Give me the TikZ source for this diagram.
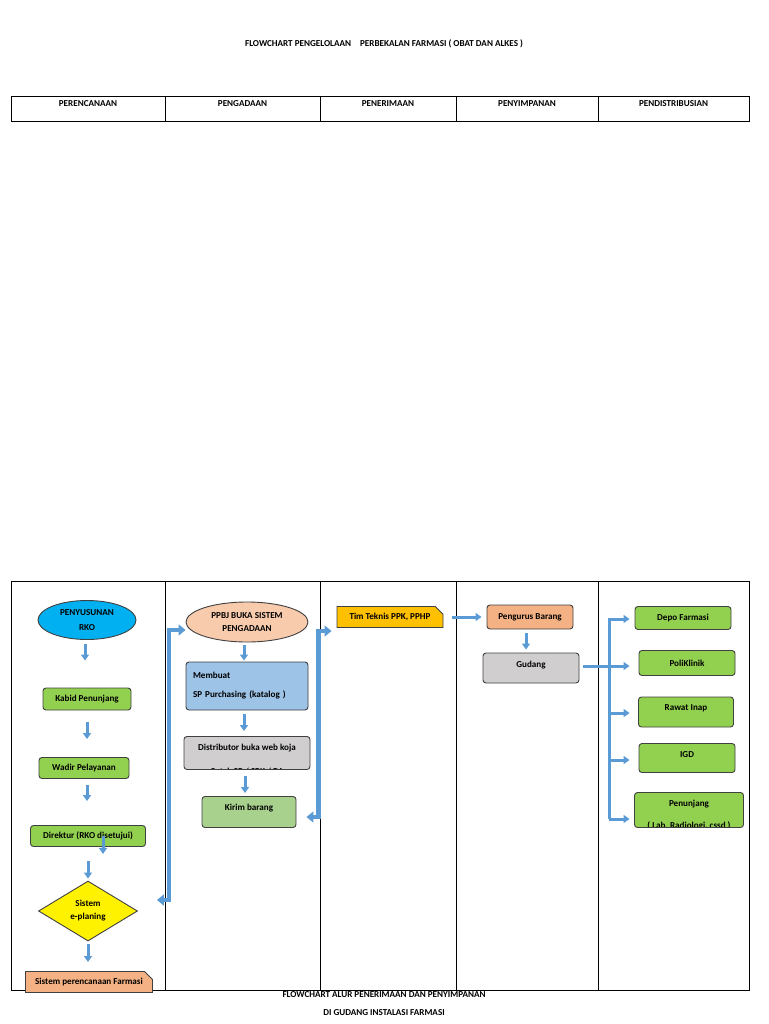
\documentclass[tikz,border=0pt]{standalone}
\usepackage{fontspec}
\setmainfont{Carlito}
\usetikzlibrary{arrows.meta,shapes.geometric,shapes.misc}
\definecolor{arrblue}{HTML}{5B9BD5}
\definecolor{rkoblue}{HTML}{00B0F0}
\definecolor{boxgreen}{HTML}{92D050}
\definecolor{softgreen}{HTML}{A9D18E}
\definecolor{peach}{HTML}{F8CBAD}
\definecolor{salmon}{HTML}{F4B183}
\definecolor{skyblue}{HTML}{9DC3E6}
\definecolor{boxgray}{HTML}{D0CECE}
\definecolor{amber}{HTML}{FFC000}
\tikzset{
  txt/.style={font=\bfseries\fontsize{9.1}{10}\selectfont},
  box/.style={txt, draw=black!75, line width=0.9pt, rounded corners=3pt, inner sep=0pt},
  snip/.style={txt, draw=black!75, line width=0.9pt, chamfered rectangle, chamfered rectangle corners=north east, chamfered rectangle xsep=4pt, chamfered rectangle ysep=4pt, inner sep=0pt},
  arr/.style={draw=arrblue, line width=3pt, -{Triangle[width=8pt,length=6pt]}},
  bigarr/.style={draw=arrblue, line width=4.5pt, {Triangle[width=11pt,length=7pt]}-{Triangle[width=11pt,length=7pt]}},
  trunk/.style={draw=arrblue, line width=3pt}
}
\begin{document}
\begin{tikzpicture}[x=1pt, y=-1pt]
\useasboundingbox (0,0) rectangle (768,1024);
\node[txt] (title) at (384,44) {FLOWCHART PENGELOLAAN\quad PERBEKALAN FARMASI ( OBAT DAN ALKES )};
\foreach \xa/\xb/\t [count=\i] in {11/165/PERENCANAAN, 165/320/PENGADAAN, 320/456/PENERIMAAN, 456/598/PENYIMPANAN, 598/749/PENDISTRIBUSIAN} {
  \draw[line width=0.9pt] (\xa,96) rectangle (\xb,121);
  \draw[line width=0.9pt] (\xa,581) rectangle (\xb,990);
  \node[txt] (col\i) at ({(\xa+\xb)/2},104) {\t};
}
\node[txt] (foot1) at (384,995) {FLOWCHART ALUR PENERIMAAN DAN PENYIMPANAN};
\node[txt] (foot2) at (384,1013) {DI GUDANG INSTALASI FARMASI};

\node[box, ellipse, fill=rkoblue, minimum width=98pt, minimum height=39pt, align=center, font=\bfseries\fontsize{9.1}{15}\selectfont] (rko) at (87,620) {PENYUSUNAN\\RKO};
\node[box, fill=boxgreen, minimum width=88pt, minimum height=22pt] (kabid) at (87,699) {Kabid Penunjang};
\node[box, fill=boxgreen, minimum width=90pt, minimum height=21pt] (wadir) at (84,768) {Wadir Pelayanan};
\node[box, fill=boxgreen, minimum width=115pt, minimum height=21pt] (direktur) at (88,836) {Direktur (RKO disetujui)};
\node[box, diamond, rounded corners=0pt, fill=yellow, minimum width=99pt, minimum height=60pt, aspect=1.65, align=center, font=\bfseries\fontsize{9.1}{13}\selectfont] (eplan) at (88,911) {Sistem\\e-planing};
\node[snip, fill=salmon, minimum width=127pt, minimum height=21pt] (sisfar) at (89,982) {Sistem perencanaan Farmasi};

\node[box, ellipse, fill=peach, minimum width=122pt, minimum height=40pt, align=center, font=\bfseries\fontsize{9.1}{13}\selectfont] (ppbj) at (247,622) {PPBJ BUKA SISTEM\\PENGADAAN};
\node[box, fill=skyblue, text width=108pt, inner xsep=7pt, minimum height=48pt, align=left, font=\bfseries\fontsize{9.1}{19}\selectfont] (membuat) at (247,686) {Membuat\\SP Purchasing (katalog )};
\node[box, fill=boxgray, minimum width=126pt, minimum height=33pt, path picture={\node[txt] at ([yshift=-2pt]path picture bounding box.south) {Cetak SP / SPK / BA};}] (distri) at (247,753) {};
\node[txt, anchor=north] (distritxt) at ([yshift=-5pt]distri.north) {Distributor buka web koja};
\node[box, fill=softgreen, minimum width=94pt, minimum height=31pt] (kirim) at (249,812) {};
\node[txt, anchor=north] (kirimtxt) at ([yshift=-5pt]kirim.north) {Kirim barang};

\node[snip, fill=amber, minimum width=106pt, minimum height=21pt] (tim) at (390,617) {Tim Teknis PPK, PPHP};
\node[box, fill=salmon, minimum width=86pt, minimum height=24pt] (pengurus) at (530,617) {Pengurus Barang};
\node[box, fill=boxgray, minimum width=96pt, minimum height=30pt] (gudang) at (531,668) {};
\node[txt, anchor=north] (gudangtxt) at ([yshift=-5pt]gudang.north) {Gudang};

\node[box, fill=boxgreen, minimum width=96pt, minimum height=23pt] (depo) at (683,618) {Depo Farmasi};
\node[box, fill=boxgreen, minimum width=96pt, minimum height=25pt] (poli) at (687,663) {PoliKlinik};
\node[box, fill=boxgreen, minimum width=95pt, minimum height=30pt] (rawat) at (686,712) {};
\node[txt, anchor=north] (rawattxt) at ([yshift=-5pt]rawat.north) {Rawat Inap};
\node[box, fill=boxgreen, minimum width=96pt, minimum height=29pt] (igd) at (687,758) {};
\node[txt, anchor=north] (igdtxt) at ([yshift=-5pt]igd.north) {IGD};
\node[box, fill=boxgreen, minimum width=109pt, minimum height=35pt, path picture={\node[txt] at ([yshift=2pt]path picture bounding box.south) {( Lab, Radiologi, cssd )};}] (penunjang) at (689,810) {};
\node[txt, anchor=north] (penunjangtxt) at ([yshift=-5pt]penunjang.north) {Penunjang};

\draw[arr, shorten <=4pt, shorten >=27pt] ([xshift=-2pt]rko.south) -- ([xshift=-2pt]rko.south |- kabid.north);
\draw[arr, shorten <=12pt, shorten >=18pt] (kabid.south) -- (kabid.south |- wadir.north);
\draw[arr, shorten <=6pt, shorten >=24pt] ([xshift=3pt]wadir.south) -- ([xshift=3pt]wadir.south |- direktur.north);
\draw[arr] ([xshift=15pt]direktur.center) -- ([xshift=15pt,yshift=-7pt]direktur.south);
\draw[arr, shorten <=14pt, shorten >=2pt] (direktur.south) -- (direktur.south |- eplan.north);
\draw[arr, shorten <=3pt, shorten >=9pt] (eplan.south) -- (eplan.south |- sisfar.north);

\draw[arr, shorten <=3pt, shorten >=1pt] ([xshift=-3pt]ppbj.south) -- ([xshift=-3pt]ppbj.south |- membuat.north);
\draw[arr, shorten <=4pt, shorten >=5pt] ([xshift=-3pt]membuat.south) -- ([xshift=-3pt]membuat.south |- distri.north);
\draw[arr, shorten <=6pt, shorten >=3pt] ([xshift=-2pt]distri.south) -- ([xshift=-2pt]distri.south |- kirim.north);

\draw[bigarr] ([xshift=19pt,yshift=11pt]eplan.east) -- ++(12,0) |- ([yshift=-8pt]ppbj.west);
\draw[bigarr] ([xshift=10pt,yshift=-5pt]kirim.east) -- ++(12,0) |- ([xshift=-5pt,yshift=-14pt]tim.west);

\draw[arr, shorten <=9pt, shorten >=5pt] (tim.east) -- (pengurus.west);
\draw[arr, shorten <=4pt, shorten >=3pt] ([xshift=-4pt]pengurus.south) -- ([xshift=-4pt]pengurus.south |- gudang.north);

\coordinate (fan) at ([xshift=30pt]gudang.east);
\coordinate (tip) at ([xshift=-5pt]depo.west);
\draw[arr] ([xshift=4pt,yshift=2pt]gudang.east) -- ([yshift=2pt]gudang.east -| tip);
\draw[trunk] (fan |- depo.west) -- ([yshift=-9pt]fan |- penunjang.west);
\foreach \n/\dy in {depo/-1, rawat/-1, igd/-2, penunjang/-9}
  \draw[arr] ([yshift=\dy pt]fan |- \n.west) -- ([yshift=\dy pt]tip |- \n.west);
\end{tikzpicture}
\end{document}
